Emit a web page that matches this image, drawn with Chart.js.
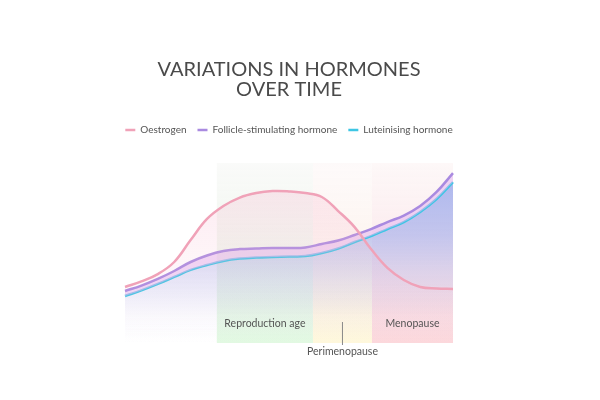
<!DOCTYPE html>
<html>
<head>
<meta charset="utf-8">
<script src="https://cdn.jsdelivr.net/npm/chart.js@4.4.1/dist/chart.umd.min.js"></script>
<style>
  html, body { margin: 0; padding: 0; background: #fff; }
  #wrap { width: 600px; height: 400px; }
</style>
</head>
<body>
<div id="wrap"><canvas id="hormones"></canvas></div>
<script>
// time axis (arbitrary units, birth -> old age)
const timePoints = [0, 5, 10, 15, 20, 25, 30, 35, 40, 45, 50, 55, 60, 65, 70, 75, 80, 85, 90, 95, 100];

// hormone levels
const oestrogen = [31.1, 34.2, 38.3, 45.0, 57.2, 68.9, 76.1, 80.8, 83.3, 84.4, 84.2, 83.3, 81.1, 73.3, 64.4, 52.2, 41.7, 35.0, 31.1, 30.3, 30.0];
const fsh       = [28.9, 31.9, 35.6, 40.0, 45.0, 48.6, 51.1, 52.2, 52.5, 52.8, 52.8, 53.1, 55.0, 56.9, 60.0, 63.3, 67.2, 70.8, 76.1, 83.9, 94.4];
const lh        = [26.1, 29.2, 32.8, 36.7, 40.6, 43.3, 45.6, 46.9, 47.5, 47.8, 48.1, 48.3, 50.0, 52.5, 56.1, 59.4, 63.3, 67.2, 72.8, 80.0, 89.4];

// life stages
const stageNames  = ['Reproduction age', 'Perimenopause', 'Menopause'];
const stageStarts = [28, 57.3, 75.3];
const stageEnds   = [57.3, 75.3, 100];
const stageTop    = 100;

const FONT = 'Lato, "Open Sans", sans-serif';

function toPts(vals) {
  return vals.map((v, i) => ({ x: timePoints[i], y: v }));
}

// vertical gradient, stops given as [level, colour]
function levelGrad(chart, stops) {
  const y = chart.scales.y;
  const area = chart.chartArea;
  const g = chart.ctx.createLinearGradient(0, area.bottom, 0, area.top);
  const span = y.max - y.min;
  stops.forEach(s => g.addColorStop(Math.min(1, (s[0] - y.min) / span), s[1]));
  return g;
}

// stage bands behind the curves + their labels
const stagesPlugin = {
  id: 'stages',
  beforeDatasetsDraw(chart) {
    const { ctx, chartArea, scales: { x, y } } = chart;
    const bandColors = [
      [[0, 'rgba(226,249,226,1)'], [50, 'rgba(238,246,236,0.9)'], [100, 'rgba(246,247,245,0.6)']],
      [[0, 'rgba(255,248,220,1)'], [50, 'rgba(253,243,236,0.9)'], [100, 'rgba(252,245,245,0.5)']],
      [[0, 'rgba(252,216,220,1)'], [50, 'rgba(251,230,234,0.9)'], [100, 'rgba(252,243,243,0.6)']]
    ];
    const top = y.getPixelForValue(stageTop);
    ctx.save();
    stageNames.forEach((name, i) => {
      const x0 = x.getPixelForValue(stageStarts[i]);
      const x1 = x.getPixelForValue(stageEnds[i]);
      ctx.fillStyle = levelGrad(chart, bandColors[i]);
      ctx.fillRect(x0, top, x1 - x0, chartArea.bottom - top);
    });
    ctx.restore();
  },
  afterDatasetsDraw(chart) {
    const { ctx, chartArea, scales: { x } } = chart;
    ctx.save();
    ctx.font = '10.5px ' + FONT;
    ctx.fillStyle = '#555';
    ctx.textAlign = 'center';
    ctx.textBaseline = 'middle';
    stageNames.forEach((name, i) => {
      const cx = (x.getPixelForValue(stageStarts[i]) + x.getPixelForValue(stageEnds[i])) / 2;
      if (i === 1) {
        // perimenopause label hangs below the chart
        ctx.strokeStyle = '#888';
        ctx.lineWidth = 1;
        ctx.beginPath();
        ctx.moveTo(cx, chartArea.bottom - 21);
        ctx.lineTo(cx, chartArea.bottom + 2);
        ctx.stroke();
        ctx.fillText(name, cx, chartArea.bottom + 9);
      } else {
        ctx.fillText(name, cx, chartArea.bottom - 19);
      }
    });
    ctx.restore();
  }
};

const ctx = document.getElementById('hormones').getContext('2d');
const hormoneChart = new Chart(ctx, {
  type: 'line',
  data: {
    datasets: [
      {
        label: 'Oestrogen',
        data: toPts(oestrogen),
        borderColor: '#f0a2b8',
        borderWidth: 2.5,
        fill: 'origin',
        backgroundColor: c => {
          if (!c.chart.chartArea) return 'transparent';
          return levelGrad(c.chart, [[0, 'rgba(250,200,215,0)'], [40, 'rgba(248,190,210,0.12)'], [90, 'rgba(246,180,205,0.3)']]);
        }
      },
      {
        label: 'Follicle-stimulating hormone',
        data: toPts(fsh),
        borderColor: '#a98ae0',
        borderWidth: 2.5,
        fill: '+1',
        backgroundColor: 'rgba(228,180,240,0.55)'
      },
      {
        label: 'Luteinising hormone',
        data: toPts(lh),
        borderColor: '#3ec6e4',
        borderWidth: 2.5,
        fill: 'origin',
        backgroundColor: c => {
          if (!c.chart.chartArea) return 'transparent';
          return levelGrad(c.chart, [[0, 'rgba(150,165,235,0)'], [15, 'rgba(150,165,235,0.05)'], [40, 'rgba(150,165,235,0.3)'], [60, 'rgba(150,165,235,0.55)'], [95, 'rgba(150,165,235,0.8)']]);
        }
      }
    ]
  },
  options: {
    responsive: true,
    maintainAspectRatio: false,
    animation: false,
    layout: { padding: { left: 89, right: 111, top: 0, bottom: 57 } },
    elements: {
      point: { radius: 0, hoverRadius: 0 },
      line: { tension: 0.4 }
    },
    scales: {
      x: { type: 'linear', min: -10.98, max: 110.98, display: false },
      y: { min: 0, max: 110, display: false }
    },
    plugins: {
      title: {
        display: true,
        text: ['VARIATIONS IN HORMONES', 'OVER TIME'],
        color: '#4a4a4a',
        font: { family: FONT, size: 20, weight: 'normal', lineHeight: 1.0 },
        padding: { top: 60, bottom: 14 }
      },
      legend: {
        display: true,
        position: 'top',
        labels: {
          color: '#555',
          font: { family: FONT, size: 10 },
          usePointStyle: true,
          pointStyle: 'line',
          pointStyleWidth: 10,
          boxHeight: 10,
          padding: 11
        }
      },
      tooltip: { enabled: false }
    }
  },
  plugins: [stagesPlugin]
});
</script>
</body>
</html>
